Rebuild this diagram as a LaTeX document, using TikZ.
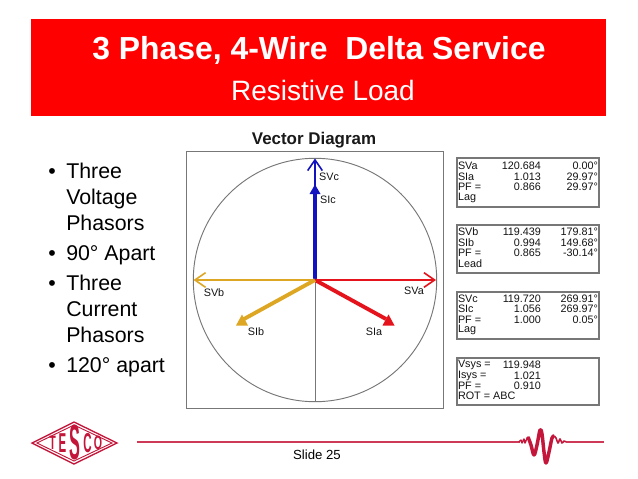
\documentclass[tikz,border=0pt]{standalone}
\usepackage{fontspec}
\setmainfont{Liberation Sans}
\usetikzlibrary{arrows.meta}
\definecolor{banner}{HTML}{FF0000}
\definecolor{phA}{HTML}{E5141C}
\definecolor{phB}{HTML}{DDA723}
\definecolor{phC}{HTML}{1212C0}
\definecolor{frameg}{HTML}{777777}
\definecolor{tesco}{HTML}{C4163A}
\newcommand{\fs}[1]{\fontsize{#1}{#1}\selectfont}
\tikzset{
  x=0.75pt,y=-0.75pt,
  txt/.style={inner sep=0pt,outer sep=0pt,font=\fs{8.1},text=black!92},
  bul/.style={inner sep=0pt,anchor=base west,font=\fs{16},text=black},
  tbox/.style={draw=frameg,line width=1pt},
  volt/.style={line width=1.4pt,-{Straight Barb[length=8pt,width=11pt,line width=1.2pt]}},
  curr/.style={line width=2.9pt},
  logol/.style={inner sep=0pt,text=tesco,font=\bfseries}
}
\newcommand{\trow}[5]{%
  \node[txt,anchor=west] (#1l) at (458,#2) {#3};
  \node[txt,anchor=east] (#1v) at (541,#2) {#4};
  \node[txt,anchor=east] (#1a) at (598,#2) {#5};
}
\begin{document}
\begin{tikzpicture}
\useasboundingbox[fill=white] (0,0) rectangle (638,478);
% banner
\fill[banner] (31,19) rectangle (606,116);
\node[inner sep=0pt,text=white,font=\bfseries\fs{23.9}] (title) at (319,50) {3 Phase, 4-Wire\ \ Delta Service};
\node[inner sep=0pt,text=white,font=\fs{21}] (sub) at (323,90) {Resistive Load};
% bullets
\foreach \n/\y/\b/\t in {a/178/1/Three,b/204/0/Voltage,c/230/0/Phasors,d/260/1/90° Apart,e/290/1/Three,f/316/0/Current,g/342/0/Phasors,h/372/1/120° apart}{
  \node[bul] (b\n) at (66,\y) {\t};
  \ifnum\b=1 \node[bul] (m\n) at (48,\y) {•};\fi
}
% vector diagram
\node[inner sep=0pt,font=\bfseries\fs{12.7},text=black!90] (vd) at (314,140) {Vector Diagram};
\draw[frameg,line width=0.7pt] (186,151) rectangle (443.5,408);
\coordinate (o) at (315,280);
\coordinate (down) at (315,401.5);
\coordinate (sva) at (436,280);
\coordinate (svb) at (193.5,280);
\coordinate (svc) at (315,158.5);
\draw[frameg,line width=0.7pt] (o) circle[radius=121.7];
\draw[frameg,line width=0.7pt] (o) -- (down);
\draw[volt,phB] (o) -- (svb);
\draw[volt,phA] (o) -- (sva);
\draw[volt,phC] (o) -- (svc);
\coordinate (sic) at (315,190);
\coordinate (sia) at (386,319);
\coordinate (sib) at (244,319);
\draw[curr,phC] (o) -- (sic);
\draw[curr,phA] (o) -- (sia);
\draw[curr,phB] (o) -- (sib);
\fill[phC] (315,184.5) -- (320.5,194) -- (309.5,194) -- cycle;
\fill[phA] (388.5,314.5) -- (394.5,325.5) -- (382.5,325.5) -- cycle;
\fill[phB] (242,314.5) -- (248,325.5) -- (236,325.5) -- cycle;
\node[txt] (lsvc) at (329,177) {SVc};
\node[txt] (lsic) at (328,200) {SIc};
\node[txt] (lsvb) at (214,293) {SVb};
\node[txt] (lsva) at (414,291) {SVa};
\node[txt] (lsib) at (256,332) {SIb};
\node[txt] (lsia) at (374,332) {SIa};
% tables
\draw[tbox] (457,158) rectangle (599,207);
\trow{a1}{165.7}{SVa}{120.684}{0.00°}
\trow{a2}{176.5}{SIa}{1.013}{29.97°}
\trow{a3}{187}{PF =}{0.866}{29.97°}
\trow{a4}{197.5}{Lag}{}{}
\draw[tbox] (457,225) rectangle (599,273);
\trow{b1}{231.7}{SVb}{119.439}{179.81°}
\trow{b2}{242.3}{SIb}{0.994}{149.68°}
\trow{b3}{253}{PF =}{0.865}{-30.14°}
\trow{b4}{263.5}{Lead}{}{}
\draw[tbox] (457,292) rectangle (599,339);
\trow{c1}{299}{SVc}{119.720}{269.91°}
\trow{c2}{309}{SIc}{1.056}{269.97°}
\trow{c3}{319.5}{PF =}{1.000}{0.05°}
\trow{c4}{330}{Lag}{}{}
\draw[tbox] (457,358) rectangle (599,405);
\trow{d1}{365}{Vsys =}{119.948}{}
\trow{d2}{375.5}{Isys =}{1.021}{}
\trow{d3}{386}{PF =}{0.910}{}
\trow{d4}{396}{ROT = ABC}{}{}
% footer logo
\draw[tesco,line width=1pt] (32,443) -- (74,422) -- (117,443) -- (74,464) -- cycle;
\draw[tesco,line width=0.7pt] (37,443) -- (74,425) -- (112,443) -- (74,461) -- cycle;
\node[logol] (lt) at (52.5,443) {\fs{14.5}\scalebox{0.55}[1]{T}};
\node[logol] (le) at (62.5,443) {\fs{20.5}\scalebox{0.42}[1]{E}};
\node[logol] (ls) at (75,443) {\fs{37}\scalebox{0.33}[1]{S}};
\node[logol] (lc) at (87.5,443) {\fs{20.5}\scalebox{0.42}[1]{C}};
\node[logol] (lo) at (98,443) {\fs{14.5}\scalebox{0.55}[1]{O}};
% footer line and pulse
\draw[tesco!85,line width=0.9pt] (137,442) -- (520,442);
\draw[tesco!85,line width=0.9pt] (566,442) -- (604,442);
\draw[tesco,line width=1pt,line join=round] plot[smooth,tension=0.6] coordinates {(519,442) (521,440) (522,443) (524,439) (525,443) (528,437) (531,445)};
\draw[tesco,line width=2.6pt,line join=round] plot[smooth,tension=0.6] coordinates {(528,437) (531,445) (534,455) (537,445) (540,430) (542,434) (544,452) (546,463) (549,452) (552,438) (554,436)};
\draw[tesco,line width=1.2pt,line join=round] plot[smooth,tension=0.6] coordinates {(554,436) (556,438) (558,443) (560,439) (562,443) (564,441) (566,442)};
\node[inner sep=0pt,font=\fs{9.9},text=black] (slide) at (317,455) {Slide 25};
\end{tikzpicture}
\end{document}
